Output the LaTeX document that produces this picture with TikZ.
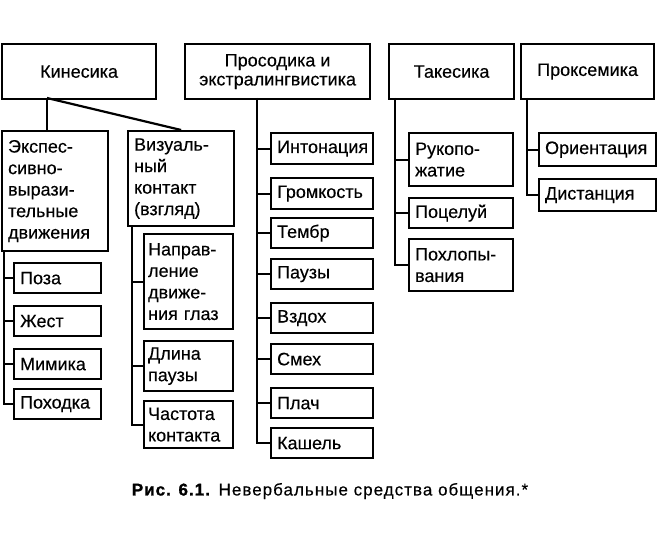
\documentclass[tikz,border=0pt]{standalone}
\usepackage{fontspec}
\setmainfont{Liberation Sans}[FakeBold=0.3, BoldFeatures={FakeBold=1.2}]
\usepackage{tikz}

\tikzset{
  box/.style={draw, line width=2.2pt, inner sep=0pt, anchor=north west, align=center},
  leaf/.style={draw, line width=2.2pt, inner xsep=6pt, inner ysep=0pt, anchor=north west, align=left},
  link/.style={line width=2.2pt},
}

\begin{document}
\begin{tikzpicture}[x=1pt, y=-1pt, font=\fontsize{18}{21.5}\selectfont]
    \useasboundingbox (0,0) rectangle (660,559);
    % top row
    \node[box, minimum width=154pt, minimum height=55pt] (kin)  at (1,43)   {Кинесика};
    \node[box, minimum width=185pt, minimum height=55pt, font=\fontsize{18}{19}\selectfont] (pros) at (184,43) {Просодика и\\экстралингвистика};
    \node[box, minimum width=125pt, minimum height=55pt] (tak)  at (388,43) {Такесика};
    \node[box, minimum width=133pt, minimum height=55pt] (prox) at (520,43) {Проксемика};

    % kinesika
    \node[leaf, text width=94pt, minimum height=120pt] (expr) at (1,130)   {Экспес-\\сивно-\\вырази-\\тельные\\движения};
    \node[leaf, text width=94pt, minimum height=95pt]  (vis)  at (127,130) {Визуаль-\\ный\\контакт\\(взгляд)};
    \node[leaf, text width=75pt, minimum height=30pt] (poza)    at (13,262) {Поза};
    \node[leaf, text width=75pt, minimum height=30pt] (zhest)   at (13,305) {Жест};
    \node[leaf, text width=75pt, minimum height=30pt] (mimika)  at (13,348) {Мимика};
    \node[leaf, text width=75pt, minimum height=30pt] (pohodka) at (13,388) {Походка};
    \node[leaf, text width=81pt, inner xsep=4pt, minimum height=95pt] (napr)  at (143,233) {Направ-\\ление\\движе-\\ния глаз};
    \node[leaf, text width=81pt, inner xsep=4pt, minimum height=50pt] (dlina) at (143,340) {Длина\\паузы};
    \node[leaf, text width=81pt, inner xsep=4pt, minimum height=47pt] (chast) at (143,400) {Частота\\контакта};

    % prosodika
    \node[leaf, text width=90pt, minimum height=31pt] (inton)  at (270,132) {Интонация};
    \node[leaf, text width=90pt, minimum height=31pt] (grom)   at (270,177) {Громкость};
    \node[leaf, text width=90pt, minimum height=30pt] (tembr)  at (270,217) {Тембр};
    \node[leaf, text width=90pt, minimum height=30pt] (pauzy)  at (270,258) {Паузы};
    \node[leaf, text width=90pt, minimum height=30pt] (vzdoh)  at (270,302) {Вздох};
    \node[leaf, text width=90pt, minimum height=30pt] (smeh)   at (270,343) {Смех};
    \node[leaf, text width=90pt, minimum height=30pt] (plach)  at (270,387) {Плач};
    \node[leaf, text width=90pt, minimum height=30pt] (kashel) at (270,427) {Кашель};

    % takesika
    \node[leaf, text width=92pt, minimum height=53pt] (ruk)  at (408,132) {Рукопо-\\жатие};
    \node[leaf, text width=92pt, minimum height=30pt] (poc)  at (408,197) {Поцелуй};
    \node[leaf, text width=92pt, minimum height=52pt] (pohl) at (408,238) {Похлопы-\\вания};

    % proksemika
    \node[leaf, text width=105pt, minimum height=33pt] (orient) at (538,132) {Ориентация};
    \node[leaf, text width=105pt, minimum height=32pt] (dist)   at (538,178) {Дистанция};

    \node (caption) at (330,491) {\fontsize{17}{19}\selectfont\addfontfeature{LetterSpace=6}\textbf{Рис. 6.1.} Невербальные средства общения.*};

    % connectors
    \coordinate (kinfoot) at (47,98);
    \draw[link] (kinfoot) -- (kinfoot |- expr.north);
    \draw[link] (kinfoot) -- (vis.north);

    \coordinate (exprbus) at (4,250);
    \draw[link] (exprbus) |- (pohodka.west);
    \foreach \n in {poza,zhest,mimika}
        \draw[link] (exprbus |- \n.west) -- (\n.west);

    \coordinate (visbus) at (132,225);
    \draw[link] (visbus) |- (chast.west);
    \foreach \n in {napr,dlina}
        \draw[link] (visbus |- \n.west) -- (\n.west);

    \coordinate (prosbus) at (257,98);
    \draw[link] (prosbus) |- (kashel.west);
    \foreach \n in {inton,grom,tembr,pauzy,vzdoh,smeh,plach}
        \draw[link] (prosbus |- \n.west) -- (\n.west);

    \coordinate (takbus) at (395,98);
    \draw[link] (takbus) |- (pohl.west);
    \foreach \n in {ruk,poc}
        \draw[link] (takbus |- \n.west) -- (\n.west);

    \coordinate (proxbus) at (527,98);
    \draw[link] (proxbus) |- (dist.west);
    \draw[link] (proxbus |- orient.west) -- (orient.west);
\end{tikzpicture}
\end{document}
